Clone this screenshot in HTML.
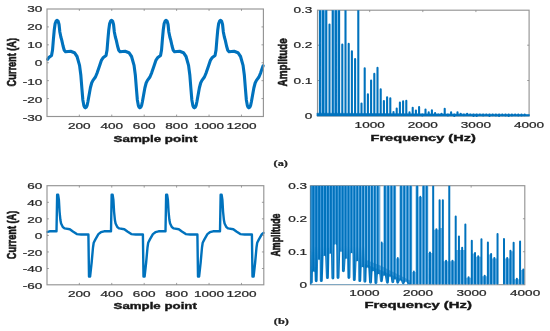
<!DOCTYPE html>
<html><head><meta charset="utf-8"><title>Figure</title>
<style>html,body{margin:0;padding:0;background:#fff}svg{display:block}</style></head>
<body>
<svg width="550" height="331" viewBox="0 0 550 331">
<rect width="550" height="331" fill="#fff"/>
<filter id="soft" x="0" y="0" width="550" height="331" filterUnits="userSpaceOnUse"><feGaussianBlur stdDeviation="0.38"/></filter>
<g filter="url(#soft)">
<clipPath id="cTL"><rect x="47.0" y="9.0" width="216.39999999999998" height="107.5"/></clipPath>
<polyline fill="none" stroke="#0072BD" stroke-width="3.1" stroke-linejoin="round" stroke-linecap="round" points="47.60,59.27 48.85,57.40 51.55,55.40 52.55,50.00 53.35,40.00 54.25,30.00 55.15,23.50 56.15,21.00 57.05,20.40 58.05,21.00 59.05,24.50 59.85,32.00 60.85,37.00 61.75,40.20 63.05,46.00 64.25,50.20 65.55,51.80 70.65,51.20 74.45,52.70 77.05,56.50 79.55,65.40 80.85,75.30 81.85,88.00 82.85,100.00 83.85,105.50 84.65,107.30 85.35,107.80 86.25,107.20 87.05,105.60 87.85,102.00 88.65,97.50 90.35,88.00 91.65,83.00 92.95,80.40 95.45,77.00 97.25,72.60 99.25,66.80 101.35,60.40 103.35,57.40 106.05,55.40 107.05,50.00 107.85,40.00 108.75,30.00 109.65,23.50 110.65,21.00 111.55,20.40 112.55,21.00 113.55,24.50 114.35,32.00 115.35,37.00 116.25,40.20 117.55,46.00 118.75,50.20 120.05,51.80 125.15,51.20 128.95,52.70 131.55,56.50 134.05,65.40 135.35,75.30 136.35,88.00 137.35,100.00 138.35,105.50 139.15,107.30 139.85,107.80 140.75,107.20 141.55,105.60 142.35,102.00 143.15,97.50 144.85,88.00 146.15,83.00 147.45,80.40 149.95,77.00 151.75,72.60 153.75,66.80 155.85,60.40 157.85,57.40 160.55,55.40 161.55,50.00 162.35,40.00 163.25,30.00 164.15,23.50 165.15,21.00 166.05,20.40 167.05,21.00 168.05,24.50 168.85,32.00 169.85,37.00 170.75,40.20 172.05,46.00 173.25,50.20 174.55,51.80 179.65,51.20 183.45,52.70 186.05,56.50 188.55,65.40 189.85,75.30 190.85,88.00 191.85,100.00 192.85,105.50 193.65,107.30 194.35,107.80 195.25,107.20 196.05,105.60 196.85,102.00 197.65,97.50 199.35,88.00 200.65,83.00 201.95,80.40 204.45,77.00 206.25,72.60 208.25,66.80 210.35,60.40 212.35,57.40 215.05,55.40 216.05,50.00 216.85,40.00 217.75,30.00 218.65,23.50 219.65,21.00 220.55,20.40 221.55,21.00 222.55,24.50 223.35,32.00 224.35,37.00 225.25,40.20 226.55,46.00 227.75,50.20 229.05,51.80 234.15,51.20 237.95,52.70 240.55,56.50 243.05,65.40 244.35,75.30 245.35,88.00 246.35,100.00 247.35,105.50 248.15,107.30 248.85,107.80 249.75,107.20 250.55,105.60 251.35,102.00 252.15,97.50 253.85,88.00 255.15,83.00 256.45,80.40 258.95,77.00 260.75,72.60 262.75,66.80 263.10,65.73"/>
<rect x="47.00" y="9.00" width="216.40" height="107.50" fill="none" stroke="#949494" stroke-width="1.15"/>
<path d="M79.33 116.50v-1.9M79.33 9.00v1.9M111.76 116.50v-1.9M111.76 9.00v1.9M144.19 116.50v-1.9M144.19 9.00v1.9M176.62 116.50v-1.9M176.62 9.00v1.9M209.05 116.50v-1.9M209.05 9.00v1.9M241.48 116.50v-1.9M241.48 9.00v1.9M47.00 98.59h1.9M263.40 98.59h-1.9M47.00 80.67h1.9M263.40 80.67h-1.9M47.00 62.75h1.9M263.40 62.75h-1.9M47.00 44.83h1.9M263.40 44.83h-1.9M47.00 26.91h1.9M263.40 26.91h-1.9" stroke="#858585" stroke-width="0.8" fill="none"/>
<text transform="translate(79.33,129.00) scale(1.46,1.0)" font-family='"Liberation Sans", Arial, sans-serif' font-size="9.3" font-weight="normal" text-anchor="middle" fill="#282828" stroke="#282828" stroke-width="0.24">200</text>
<text transform="translate(111.76,129.00) scale(1.46,1.0)" font-family='"Liberation Sans", Arial, sans-serif' font-size="9.3" font-weight="normal" text-anchor="middle" fill="#282828" stroke="#282828" stroke-width="0.24">400</text>
<text transform="translate(144.19,129.00) scale(1.46,1.0)" font-family='"Liberation Sans", Arial, sans-serif' font-size="9.3" font-weight="normal" text-anchor="middle" fill="#282828" stroke="#282828" stroke-width="0.24">600</text>
<text transform="translate(176.62,129.00) scale(1.46,1.0)" font-family='"Liberation Sans", Arial, sans-serif' font-size="9.3" font-weight="normal" text-anchor="middle" fill="#282828" stroke="#282828" stroke-width="0.24">800</text>
<text transform="translate(209.05,129.00) scale(1.46,1.0)" font-family='"Liberation Sans", Arial, sans-serif' font-size="9.3" font-weight="normal" text-anchor="middle" fill="#282828" stroke="#282828" stroke-width="0.24">1000</text>
<text transform="translate(241.48,129.00) scale(1.46,1.0)" font-family='"Liberation Sans", Arial, sans-serif' font-size="9.3" font-weight="normal" text-anchor="middle" fill="#282828" stroke="#282828" stroke-width="0.24">1200</text>
<text transform="translate(42.30,120.60) scale(1.46,1.0)" font-family='"Liberation Sans", Arial, sans-serif' font-size="9.3" font-weight="normal" text-anchor="end" fill="#282828" stroke="#282828" stroke-width="0.24">-30</text>
<text transform="translate(42.30,102.55) scale(1.46,1.0)" font-family='"Liberation Sans", Arial, sans-serif' font-size="9.3" font-weight="normal" text-anchor="end" fill="#282828" stroke="#282828" stroke-width="0.24">-20</text>
<text transform="translate(42.30,84.50) scale(1.46,1.0)" font-family='"Liberation Sans", Arial, sans-serif' font-size="9.3" font-weight="normal" text-anchor="end" fill="#282828" stroke="#282828" stroke-width="0.24">-10</text>
<text transform="translate(42.30,66.45) scale(1.46,1.0)" font-family='"Liberation Sans", Arial, sans-serif' font-size="9.3" font-weight="normal" text-anchor="end" fill="#282828" stroke="#282828" stroke-width="0.24">0</text>
<text transform="translate(42.30,48.40) scale(1.46,1.0)" font-family='"Liberation Sans", Arial, sans-serif' font-size="9.3" font-weight="normal" text-anchor="end" fill="#282828" stroke="#282828" stroke-width="0.24">10</text>
<text transform="translate(42.30,30.35) scale(1.46,1.0)" font-family='"Liberation Sans", Arial, sans-serif' font-size="9.3" font-weight="normal" text-anchor="end" fill="#282828" stroke="#282828" stroke-width="0.24">20</text>
<text transform="translate(42.30,12.30) scale(1.46,1.0)" font-family='"Liberation Sans", Arial, sans-serif' font-size="9.3" font-weight="normal" text-anchor="end" fill="#282828" stroke="#282828" stroke-width="0.24">30</text>
<text transform="translate(155.50,141.60) scale(1.365,1.0)" font-family='"Liberation Sans", Arial, sans-serif' font-size="9.8" font-weight="bold" text-anchor="middle" fill="#181818" stroke="#181818" stroke-width="0.4">Sample point</text>
<text transform="translate(16.00,62.20) rotate(-90) scale(1.0,1.36)" font-family='"Liberation Sans", Arial, sans-serif' font-size="9.2" font-weight="bold" text-anchor="middle" fill="#181818" stroke="#181818" stroke-width="0.45">Current (A)</text>
<clipPath id="cBL"><rect x="47.0" y="185.7" width="216.8" height="99.10000000000002"/></clipPath>
<polyline fill="none" stroke="#0072BD" stroke-width="2.4" stroke-linejoin="round" stroke-linecap="round" points="47.60,231.86 49.60,231.30 56.50,231.20 57.15,194.80 58.15,194.80 58.90,200.00 59.60,212.00 60.40,220.00 61.10,223.50 62.80,227.10 64.70,228.40 69.80,229.20 72.90,231.50 76.80,234.10 81.20,234.50 88.40,234.50 89.00,276.60 90.10,276.60 91.70,262.00 93.00,247.50 93.70,242.80 95.40,239.40 98.40,234.10 100.90,232.20 104.10,231.30 111.00,231.20 111.65,194.80 112.65,194.80 113.40,200.00 114.10,212.00 114.90,220.00 115.60,223.50 117.30,227.10 119.20,228.40 124.30,229.20 127.40,231.50 131.30,234.10 135.70,234.50 142.90,234.50 143.50,276.60 144.60,276.60 146.20,262.00 147.50,247.50 148.20,242.80 149.90,239.40 152.90,234.10 155.40,232.20 158.60,231.30 165.50,231.20 166.15,194.80 167.15,194.80 167.90,200.00 168.60,212.00 169.40,220.00 170.10,223.50 171.80,227.10 173.70,228.40 178.80,229.20 181.90,231.50 185.80,234.10 190.20,234.50 197.40,234.50 198.00,276.60 199.10,276.60 200.70,262.00 202.00,247.50 202.70,242.80 204.40,239.40 207.40,234.10 209.90,232.20 213.10,231.30 220.00,231.20 220.65,194.80 221.65,194.80 222.40,200.00 223.10,212.00 223.90,220.00 224.60,223.50 226.30,227.10 228.20,228.40 233.30,229.20 236.40,231.50 240.30,234.10 244.70,234.50 251.90,234.50 252.50,276.60 253.60,276.60 255.20,262.00 256.50,247.50 257.20,242.80 258.90,239.40 261.90,234.10 263.50,232.88"/>
<rect x="47.00" y="185.70" width="216.80" height="99.10" fill="none" stroke="#949494" stroke-width="1.15"/>
<path d="M79.33 284.80v-1.9M79.33 185.70v1.9M111.76 284.80v-1.9M111.76 185.70v1.9M144.19 284.80v-1.9M144.19 185.70v1.9M176.62 284.80v-1.9M176.62 185.70v1.9M209.05 284.80v-1.9M209.05 185.70v1.9M241.48 284.80v-1.9M241.48 185.70v1.9M47.00 268.50h1.9M263.80 268.50h-1.9M47.00 251.95h1.9M263.80 251.95h-1.9M47.00 235.40h1.9M263.80 235.40h-1.9M47.00 218.85h1.9M263.80 218.85h-1.9M47.00 202.30h1.9M263.80 202.30h-1.9" stroke="#858585" stroke-width="0.8" fill="none"/>
<text transform="translate(79.33,296.70) scale(1.46,1.0)" font-family='"Liberation Sans", Arial, sans-serif' font-size="9.3" font-weight="normal" text-anchor="middle" fill="#282828" stroke="#282828" stroke-width="0.24">200</text>
<text transform="translate(111.76,296.70) scale(1.46,1.0)" font-family='"Liberation Sans", Arial, sans-serif' font-size="9.3" font-weight="normal" text-anchor="middle" fill="#282828" stroke="#282828" stroke-width="0.24">400</text>
<text transform="translate(144.19,296.70) scale(1.46,1.0)" font-family='"Liberation Sans", Arial, sans-serif' font-size="9.3" font-weight="normal" text-anchor="middle" fill="#282828" stroke="#282828" stroke-width="0.24">600</text>
<text transform="translate(176.62,296.70) scale(1.46,1.0)" font-family='"Liberation Sans", Arial, sans-serif' font-size="9.3" font-weight="normal" text-anchor="middle" fill="#282828" stroke="#282828" stroke-width="0.24">800</text>
<text transform="translate(209.05,296.70) scale(1.46,1.0)" font-family='"Liberation Sans", Arial, sans-serif' font-size="9.3" font-weight="normal" text-anchor="middle" fill="#282828" stroke="#282828" stroke-width="0.24">1000</text>
<text transform="translate(241.48,296.70) scale(1.46,1.0)" font-family='"Liberation Sans", Arial, sans-serif' font-size="9.3" font-weight="normal" text-anchor="middle" fill="#282828" stroke="#282828" stroke-width="0.24">1200</text>
<text transform="translate(42.30,288.70) scale(1.46,1.0)" font-family='"Liberation Sans", Arial, sans-serif' font-size="9.3" font-weight="normal" text-anchor="end" fill="#282828" stroke="#282828" stroke-width="0.24">-60</text>
<text transform="translate(42.30,272.15) scale(1.46,1.0)" font-family='"Liberation Sans", Arial, sans-serif' font-size="9.3" font-weight="normal" text-anchor="end" fill="#282828" stroke="#282828" stroke-width="0.24">-40</text>
<text transform="translate(42.30,255.60) scale(1.46,1.0)" font-family='"Liberation Sans", Arial, sans-serif' font-size="9.3" font-weight="normal" text-anchor="end" fill="#282828" stroke="#282828" stroke-width="0.24">-20</text>
<text transform="translate(42.30,239.05) scale(1.46,1.0)" font-family='"Liberation Sans", Arial, sans-serif' font-size="9.3" font-weight="normal" text-anchor="end" fill="#282828" stroke="#282828" stroke-width="0.24">0</text>
<text transform="translate(42.30,222.50) scale(1.46,1.0)" font-family='"Liberation Sans", Arial, sans-serif' font-size="9.3" font-weight="normal" text-anchor="end" fill="#282828" stroke="#282828" stroke-width="0.24">20</text>
<text transform="translate(42.30,205.95) scale(1.46,1.0)" font-family='"Liberation Sans", Arial, sans-serif' font-size="9.3" font-weight="normal" text-anchor="end" fill="#282828" stroke="#282828" stroke-width="0.24">40</text>
<text transform="translate(42.30,189.40) scale(1.46,1.0)" font-family='"Liberation Sans", Arial, sans-serif' font-size="9.3" font-weight="normal" text-anchor="end" fill="#282828" stroke="#282828" stroke-width="0.24">60</text>
<text transform="translate(155.20,308.70) scale(1.355,1.0)" font-family='"Liberation Sans", Arial, sans-serif' font-size="9.8" font-weight="bold" text-anchor="middle" fill="#181818" stroke="#181818" stroke-width="0.4">Sample point</text>
<text transform="translate(16.00,235.00) rotate(-90) scale(1.0,1.36)" font-family='"Liberation Sans", Arial, sans-serif' font-size="9.2" font-weight="bold" text-anchor="middle" fill="#181818" stroke="#181818" stroke-width="0.45">Current (A)</text>
<clipPath id="cTR"><rect x="316.5" y="10.2" width="213.60000000000002" height="107.8"/></clipPath>
<rect x="317.50" y="10.20" width="211.60" height="105.80" fill="none" stroke="#949494" stroke-width="1.15"/>
<path d="M369.70 116.00v-1.9M369.70 10.20v1.9M422.80 116.00v-1.9M422.80 10.20v1.9M475.90 116.00v-1.9M475.90 10.20v1.9M317.50 80.50h1.9M529.10 80.50h-1.9M317.50 45.20h1.9M529.10 45.20h-1.9" stroke="#858585" stroke-width="0.8" fill="none"/>
<g clip-path="url(#cTR)"><path d="M319.90 9.80H323.10V114H319.90ZM323.10 9.80H326.30V114H323.10ZM332.70 9.80H335.90V114H332.70ZM335.90 9.80H339.10V114H335.90Z" fill="#7dbbe8"/><path d="M319.90 114.60V8.00M323.10 114.60V8.00M326.30 114.60V8.00M329.50 114.60V24.47M332.70 114.60V8.00M335.90 114.60V8.00M339.10 114.60V8.00M342.30 114.60V44.59M345.50 114.60V8.00M348.70 114.60V43.88M351.90 114.60V51.30M355.10 114.60V59.06M358.30 114.60V8.00M361.50 114.60V103.54M364.70 114.60V68.24M367.90 114.60V94.36M371.10 114.60V80.59M374.30 114.60V73.89M377.50 114.60V67.89M380.70 114.60V89.42M383.90 114.60V101.07M387.10 114.60V97.18M390.30 114.60V98.24M393.50 114.60V112.01M396.70 114.60V108.48M399.90 114.60V102.48M403.10 114.60V101.42M406.30 114.60V100.71M409.50 114.60V112.36M412.70 114.60V107.77M415.90 114.60V110.60M419.10 114.60V107.07M422.30 114.60V115.54M425.50 114.60V109.54M428.70 114.60V112.36M431.90 114.60V110.25M435.10 114.60V113.07M438.30 114.60V114.83M441.50 114.60V113.78M444.70 114.60V108.83M447.90 114.60V115.54M451.10 114.60V112.36M454.30 114.60V115.89M457.50 114.60V112.36M460.70 114.60V113.78M463.90 114.60V115.19M467.10 114.60V113.78M470.30 114.60V114.48M473.50 114.60V115.89M476.70 114.60V115.89M479.90 114.60V114.48M483.10 114.60V115.54M486.30 114.60V114.83M489.50 114.60V115.89M492.70 114.60V115.19M495.90 114.60V115.54M499.10 114.60V115.89M502.30 114.60V115.19M505.50 114.60V115.54M508.70 114.60V115.89M511.90 114.60V115.54M515.10 114.60V115.19M518.30 114.60V115.54M521.50 114.60V115.54M524.70 114.60V115.19" stroke="#0072BD" stroke-width="2.1" stroke-linecap="round" fill="none"/>
<path d="M316.70 113.2L400 113.7L529.40 114.5V116.1L316.70 115.9Z" fill="#0072BD" stroke="#0072BD" stroke-width="0.6" stroke-linejoin="round"/></g>
<text transform="translate(369.70,128.30) scale(1.46,1.0)" font-family='"Liberation Sans", Arial, sans-serif' font-size="9.3" font-weight="normal" text-anchor="middle" fill="#282828" stroke="#282828" stroke-width="0.24">1000</text>
<text transform="translate(422.80,128.30) scale(1.46,1.0)" font-family='"Liberation Sans", Arial, sans-serif' font-size="9.3" font-weight="normal" text-anchor="middle" fill="#282828" stroke="#282828" stroke-width="0.24">2000</text>
<text transform="translate(475.90,128.30) scale(1.46,1.0)" font-family='"Liberation Sans", Arial, sans-serif' font-size="9.3" font-weight="normal" text-anchor="middle" fill="#282828" stroke="#282828" stroke-width="0.24">3000</text>
<text transform="translate(529.00,128.30) scale(1.46,1.0)" font-family='"Liberation Sans", Arial, sans-serif' font-size="9.3" font-weight="normal" text-anchor="middle" fill="#282828" stroke="#282828" stroke-width="0.24">4000</text>
<text transform="translate(312.30,119.00) scale(1.46,1.0)" font-family='"Liberation Sans", Arial, sans-serif' font-size="9.3" font-weight="normal" text-anchor="end" fill="#282828" stroke="#282828" stroke-width="0.24">0</text>
<text transform="translate(312.30,83.70) scale(1.46,1.0)" font-family='"Liberation Sans", Arial, sans-serif' font-size="9.3" font-weight="normal" text-anchor="end" fill="#282828" stroke="#282828" stroke-width="0.24">0.1</text>
<text transform="translate(312.30,48.40) scale(1.46,1.0)" font-family='"Liberation Sans", Arial, sans-serif' font-size="9.3" font-weight="normal" text-anchor="end" fill="#282828" stroke="#282828" stroke-width="0.24">0.2</text>
<text transform="translate(312.30,13.10) scale(1.46,1.0)" font-family='"Liberation Sans", Arial, sans-serif' font-size="9.3" font-weight="normal" text-anchor="end" fill="#282828" stroke="#282828" stroke-width="0.24">0.3</text>
<text transform="translate(423.20,141.10) scale(1.49,1.0)" font-family='"Liberation Sans", Arial, sans-serif' font-size="9.8" font-weight="bold" text-anchor="middle" fill="#181818" stroke="#181818" stroke-width="0.4">Frequency (Hz)</text>
<text transform="translate(287.00,62.30) rotate(-90) scale(1.0,1.36)" font-family='"Liberation Sans", Arial, sans-serif' font-size="9.9" font-weight="bold" text-anchor="middle" fill="#181818" stroke="#181818" stroke-width="0.45">Amplitude</text>
<clipPath id="cBR"><rect x="309.9" y="185.7" width="215.89999999999998" height="100.0"/></clipPath>
<rect x="310.40" y="185.70" width="214.40" height="99.00" fill="none" stroke="#949494" stroke-width="1.15"/>
<path d="M364.05 284.70v-1.9M364.05 185.70v1.9M417.60 284.70v-1.9M417.60 185.70v1.9M471.15 284.70v-1.9M471.15 185.70v1.9M310.40 251.73h1.9M524.80 251.73h-1.9M310.40 218.76h1.9M524.80 218.76h-1.9" stroke="#858585" stroke-width="0.8" fill="none"/>
<g clip-path="url(#cBR)">
<path d="M381.70 243.01H384.91V284.2H381.70ZM384.91 185.70H388.13V284.2H384.91ZM388.13 185.70H391.35V284.2H388.13ZM391.35 185.70H394.57V284.2H391.35ZM394.57 258.51H397.79V284.2H394.57ZM397.79 258.51H401.00V284.2H397.79ZM401.00 185.70H404.22V284.2H401.00ZM404.22 185.70H407.44V284.2H404.22ZM407.44 185.70H410.66V284.2H407.44ZM410.66 272.02H413.88V284.2H410.66ZM413.88 272.02H417.09V284.2H413.88ZM417.09 197.18H420.31V284.2H417.09ZM420.31 197.18H423.53V284.2H420.31ZM423.53 185.70H426.75V284.2H423.53ZM426.75 252.90H429.97V284.2H426.75ZM429.97 252.90H433.18V284.2H429.97ZM433.18 229.82H436.40V284.2H433.18ZM436.40 229.82H439.62V284.2H436.40ZM439.62 228.00H442.84V284.2H439.62ZM442.84 261.14H446.06V284.2H442.84ZM446.06 261.14H449.27V284.2H446.06ZM449.27 261.14H452.49V284.2H449.27ZM452.49 261.14H455.71V284.2H452.49ZM455.71 250.00H458.93V284.2H455.71ZM458.93 250.00H462.15V284.2H458.93ZM462.15 250.00H465.36V284.2H462.15ZM465.36 277.63H468.58V284.2H465.36ZM468.58 277.63H471.80V284.2H468.58ZM471.80 253.56H475.02V284.2H471.80ZM475.02 256.86H478.24V284.2H475.02ZM478.24 256.86H481.45V284.2H478.24ZM481.45 276.31H484.67V284.2H481.45ZM484.67 276.31H487.89V284.2H484.67ZM487.89 254.55H491.11V284.2H487.89ZM491.11 258.51H494.33V284.2H491.11ZM494.33 258.51H497.54V284.2H494.33ZM503.98 258.51H507.20V284.2H503.98ZM507.20 258.51H510.42V284.2H507.20ZM510.42 251.25H513.63V284.2H510.42ZM513.63 279.28H516.85V284.2H513.63ZM516.85 279.28H520.07V284.2H516.85ZM520.07 270.04H523.29V284.2H520.07Z" fill="#74b6e6"/>
<path d="M384.91 283V183.90M388.13 283V183.90M391.35 283V183.90M394.57 283V183.90M401.00 283V183.90M404.22 283V183.90M407.44 283V183.90M410.66 283V183.90M417.09 283V183.90M420.31 283V196.88M423.53 283V183.90M426.75 283V183.90" stroke="#74b6e6" stroke-width="3.1" fill="none"/>
<path d="M381.70 283.40V242.41M384.91 283.40V183.60M388.13 283.40V183.60M391.35 283.40V183.60M394.57 283.40V183.60M397.79 283.40V257.91M401.00 283.40V183.60M404.22 283.40V183.60M407.44 283.40V183.60M410.66 283.40V183.60M413.88 283.40V271.42M417.09 283.40V183.60M420.31 283.40V196.58M423.53 283.40V183.60M426.75 283.40V183.60" stroke="#0072BD" stroke-width="1.75" stroke-linecap="round" fill="none"/>
<path d="M429.97 283.40V252.40M433.18 283.40V183.70M436.40 283.40V229.32M439.62 283.40V200.31M442.84 283.40V200.31M446.06 283.40V260.64M449.27 283.40V183.70M452.49 283.40V260.64M455.71 283.40V216.46M458.93 283.40V236.57M462.15 283.40V247.78M465.36 283.40V224.38M468.58 283.40V277.13M471.80 283.40V240.86M475.02 283.40V253.06M478.24 283.40V256.36M481.45 283.40V239.21M484.67 283.40V275.81M487.89 283.40V242.51M491.11 283.40V254.05M494.33 283.40V258.01M497.54 283.40V233.94M503.98 283.40V238.88M507.20 283.40V258.01M510.42 283.40V250.75M513.63 283.40V242.84M516.85 283.40V278.78M520.07 283.40V241.52M523.29 283.40V269.54" stroke="#0072BD" stroke-width="2.0" stroke-linecap="round" fill="none"/>
<rect x="310.4" y="184.7" width="69.80000000000001" height="99.60000000000002" fill="#0072BD"/>
<path d="M379.23 185.70V284" stroke="#80beea" stroke-width="1.15" fill="none"/>
<path d="M376.30 185.70V284" stroke="#7cbce9" stroke-width="1.14" fill="none"/>
<path d="M373.37 185.70V284" stroke="#79bae8" stroke-width="1.12" fill="none"/>
<path d="M370.44 185.70V284" stroke="#76b9e8" stroke-width="1.11" fill="none"/>
<path d="M367.51 185.70V284" stroke="#73b7e8" stroke-width="1.10" fill="none"/>
<path d="M364.58 185.70V284" stroke="#70b6e7" stroke-width="1.09" fill="none"/>
<path d="M361.65 185.70V284" stroke="#6db4e7" stroke-width="1.07" fill="none"/>
<path d="M358.72 185.70V284" stroke="#6bb3e6" stroke-width="1.06" fill="none"/>
<path d="M355.79 185.70V284" stroke="#68b1e6" stroke-width="1.05" fill="none"/>
<path d="M352.86 185.70V284" stroke="#65b0e5" stroke-width="1.03" fill="none"/>
<path d="M349.93 185.70V284" stroke="#63afe5" stroke-width="1.02" fill="none"/>
<path d="M347.00 185.70V284" stroke="#60ade5" stroke-width="1.01" fill="none"/>
<path d="M344.07 185.70V284" stroke="#5eace4" stroke-width="0.99" fill="none"/>
<path d="M341.14 185.70V284" stroke="#5cabe4" stroke-width="0.98" fill="none"/>
<path d="M338.21 185.70V284" stroke="#5aaae3" stroke-width="0.97" fill="none"/>
<path d="M335.28 185.70V284" stroke="#58a9e3" stroke-width="0.96" fill="none"/>
<path d="M332.35 185.70V284" stroke="#56a8e3" stroke-width="0.94" fill="none"/>
<path d="M329.42 185.70V284" stroke="#54a7e3" stroke-width="0.93" fill="none"/>
<path d="M326.49 185.70V284" stroke="#53a6e2" stroke-width="0.92" fill="none"/>
<path d="M323.56 185.70V284" stroke="#51a5e2" stroke-width="0.90" fill="none"/>
<path d="M320.63 185.70V284" stroke="#50a5e2" stroke-width="0.89" fill="none"/>
<path d="M317.70 185.70V284" stroke="#4fa4e2" stroke-width="0.88" fill="none"/>
<path d="M314.77 185.70V284" stroke="#4ea4e2" stroke-width="0.86" fill="none"/>
<path d="M311.84 185.70V284" stroke="#4ea4e2" stroke-width="0.85" fill="none"/>
<linearGradient id="gf" x1="0" y1="0" x2="0" y2="1"><stop offset="0" stop-color="#0072BD" stop-opacity="0"/><stop offset="0.6" stop-color="#0072BD" stop-opacity="0.7"/><stop offset="1" stop-color="#0072BD" stop-opacity="0.8"/></linearGradient>
<rect x="310.4" y="246" width="54.60000000000002" height="38.3" fill="url(#gf)"/>
<path d="M365 259.5L380.2 265.5L410 280.5V284.3H365Z" fill="#0072BD" opacity="0.5"/>
<path d="M365 264L380.2 270L410 283V284.3H365Z" fill="#0072BD" opacity="0.6"/>
<path d="M311.30 284.3L311.30 283.80A1.45 1.45 0 0 0 312.75 282.35L312.90 272.40A0.8 0.8 0 0 1 314.50 272.40L314.75 280.85A1.45 1.45 0 0 0 316.20 282.30L316.20 284.3ZM316.20 284.3L316.20 282.30A1.45 1.45 0 0 0 317.65 280.85L318.10 260.40A0.8 0.8 0 0 1 319.70 260.40L319.85 280.65A1.45 1.45 0 0 0 321.30 282.10L321.30 284.3ZM321.30 284.3L321.30 282.10A1.45 1.45 0 0 0 322.75 280.65L323.60 256.60A0.8 0.8 0 0 1 325.20 256.60L325.95 277.65A1.45 1.45 0 0 0 327.40 279.10L327.40 284.3ZM327.40 284.3L327.40 279.10A1.45 1.45 0 0 0 328.85 277.65L329.40 254.30A0.8 0.8 0 0 1 331.00 254.30L331.45 277.95A1.45 1.45 0 0 0 332.90 279.40L332.90 284.3ZM332.90 284.3L332.90 279.40A1.45 1.45 0 0 0 334.35 277.95L334.60 245.10A0.8 0.8 0 0 1 336.20 245.10L336.55 277.45A1.45 1.45 0 0 0 338.00 278.90L338.00 284.3ZM338.00 284.3L338.00 278.90A1.45 1.45 0 0 0 339.45 277.45L340.20 252.20A0.8 0.8 0 0 1 341.80 252.20L341.95 270.85A1.45 1.45 0 0 0 343.40 272.30L343.40 284.3ZM343.40 284.3L343.40 272.30A1.45 1.45 0 0 0 344.85 270.85L345.50 259.30A0.8 0.8 0 0 1 347.10 259.30L347.45 277.45A1.45 1.45 0 0 0 348.90 278.90L348.90 284.3ZM348.90 284.3L348.90 278.90A1.45 1.45 0 0 0 350.35 277.45L350.80 253.80A0.8 0.8 0 0 1 352.40 253.80L352.85 279.65A1.45 1.45 0 0 0 354.30 281.10L354.30 284.3ZM354.30 284.3L354.30 281.10A1.45 1.45 0 0 0 355.75 279.65L356.50 261.80A0.8 0.8 0 0 1 358.10 261.80L358.35 280.65A1.45 1.45 0 0 0 359.80 282.10L359.80 284.3ZM359.80 284.3L359.80 282.10A1.45 1.45 0 0 0 361.25 280.65L361.70 267.80A0.8 0.8 0 0 1 363.30 267.80L363.45 281.25A1.45 1.45 0 0 0 364.90 282.70L364.90 284.3ZM364.90 284.3L364.90 282.70A1.45 1.45 0 0 0 366.35 281.25L366.70 268.40A0.8 0.8 0 0 1 368.30 268.40L369.05 282.25A1.45 1.45 0 0 0 370.50 283.70L370.50 284.3ZM370.50 284.3L370.50 283.70A1.45 1.45 0 0 0 371.95 282.25L372.50 271.90A0.8 0.8 0 0 1 374.10 271.90L374.45 282.65A1.45 1.45 0 0 0 375.90 284.10L375.90 284.3ZM375.90 284.3L375.90 284.10A1.45 1.45 0 0 0 377.35 282.65L377.80 274.80A0.8 0.8 0 0 1 379.40 274.80L379.95 280.85A1.45 1.45 0 0 0 381.40 282.30L381.40 284.3ZM381.40 284.3L381.40 282.30A1.45 1.45 0 0 0 382.85 280.85L383.40 276.20A0.8 0.8 0 0 1 385.00 276.20L385.95 282.25A1.45 1.45 0 0 0 387.40 283.70L387.40 284.3ZM387.40 284.3L387.40 283.70A1.45 1.45 0 0 0 388.85 282.25L389.20 277.40A0.8 0.8 0 0 1 390.80 277.40L391.35 281.85A1.45 1.45 0 0 0 392.80 283.30L392.80 284.3ZM392.80 284.3L392.80 283.30A1.45 1.45 0 0 0 394.25 281.85L394.30 280.10A0.8 0.8 0 0 1 395.90 280.10L396.25 282.25A1.45 1.45 0 0 0 397.70 283.70L397.70 284.3ZM397.70 284.3L397.70 283.70A1.45 1.45 0 0 0 399.15 282.25L399.60 281.20A0.8 0.8 0 0 1 401.20 281.20L401.75 282.75A1.45 1.45 0 0 0 403.20 284.20L403.20 284.3ZM403.20 284.3L403.20 284.20A1.45 1.45 0 0 0 404.65 282.75L405.10 282.20A0.8 0.8 0 0 1 406.70 282.20L407.15 283.15A1.45 1.45 0 0 0 408.60 284.60L408.60 284.3Z" fill="#fff"/>
</g>
<text transform="translate(364.45,295.80) scale(1.46,1.0)" font-family='"Liberation Sans", Arial, sans-serif' font-size="9.3" font-weight="normal" text-anchor="middle" fill="#282828" stroke="#282828" stroke-width="0.24">1000</text>
<text transform="translate(418.00,295.80) scale(1.46,1.0)" font-family='"Liberation Sans", Arial, sans-serif' font-size="9.3" font-weight="normal" text-anchor="middle" fill="#282828" stroke="#282828" stroke-width="0.24">2000</text>
<text transform="translate(471.55,295.80) scale(1.46,1.0)" font-family='"Liberation Sans", Arial, sans-serif' font-size="9.3" font-weight="normal" text-anchor="middle" fill="#282828" stroke="#282828" stroke-width="0.24">3000</text>
<text transform="translate(525.10,295.80) scale(1.46,1.0)" font-family='"Liberation Sans", Arial, sans-serif' font-size="9.3" font-weight="normal" text-anchor="middle" fill="#282828" stroke="#282828" stroke-width="0.24">4000</text>
<text transform="translate(307.00,288.00) scale(1.46,1.0)" font-family='"Liberation Sans", Arial, sans-serif' font-size="9.3" font-weight="normal" text-anchor="end" fill="#282828" stroke="#282828" stroke-width="0.24">0</text>
<text transform="translate(307.00,255.03) scale(1.46,1.0)" font-family='"Liberation Sans", Arial, sans-serif' font-size="9.3" font-weight="normal" text-anchor="end" fill="#282828" stroke="#282828" stroke-width="0.24">0.1</text>
<text transform="translate(307.00,222.06) scale(1.46,1.0)" font-family='"Liberation Sans", Arial, sans-serif' font-size="9.3" font-weight="normal" text-anchor="end" fill="#282828" stroke="#282828" stroke-width="0.24">0.2</text>
<text transform="translate(307.00,189.09) scale(1.46,1.0)" font-family='"Liberation Sans", Arial, sans-serif' font-size="9.3" font-weight="normal" text-anchor="end" fill="#282828" stroke="#282828" stroke-width="0.24">0.3</text>
<text transform="translate(418.20,307.90) scale(1.52,1.0)" font-family='"Liberation Sans", Arial, sans-serif' font-size="9.8" font-weight="bold" text-anchor="middle" fill="#181818" stroke="#181818" stroke-width="0.4">Frequency (Hz)</text>
<text transform="translate(280.40,235.00) rotate(-90) scale(1.0,1.36)" font-family='"Liberation Sans", Arial, sans-serif' font-size="8.8" font-weight="bold" text-anchor="middle" fill="#181818" stroke="#181818" stroke-width="0.45">Amplitude</text>
<text transform="translate(280.70,166.00) scale(1.36,1.0)" font-family='"Liberation Serif", serif' font-size="9.0" font-weight="bold" text-anchor="middle" fill="#222" stroke="#222" stroke-width="0.24">(a)</text>
<text transform="translate(281.30,324.20) scale(1.36,1.0)" font-family='"Liberation Serif", serif' font-size="9.0" font-weight="bold" text-anchor="middle" fill="#222" stroke="#222" stroke-width="0.24">(b)</text>
</g>
</svg>
</body></html>
